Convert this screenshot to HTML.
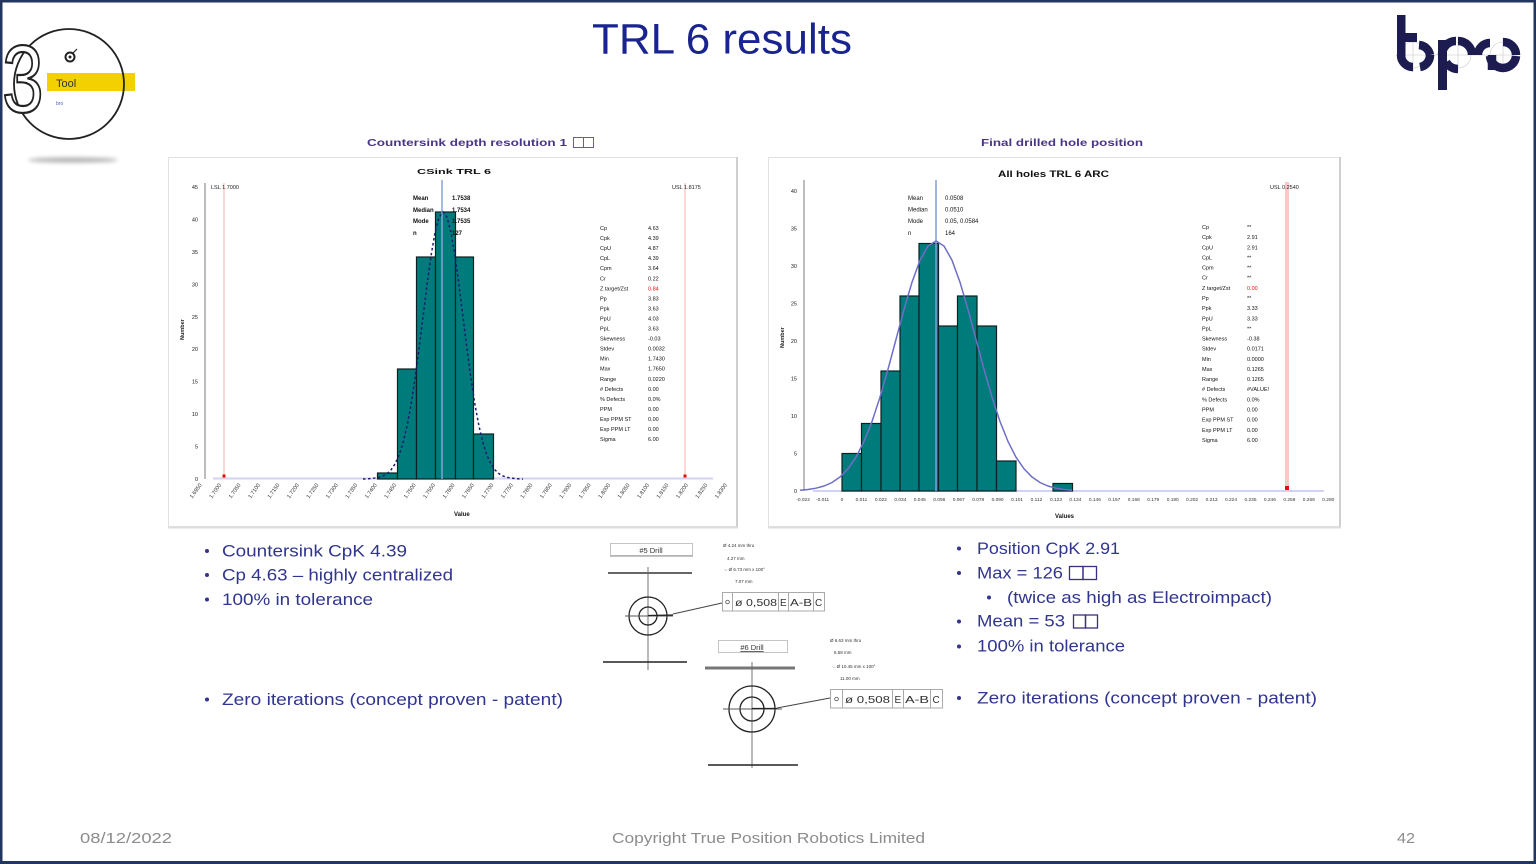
<!DOCTYPE html>
<html><head><meta charset="utf-8"><style>
html,body{margin:0;padding:0;background:#fff;width:1536px;height:864px;overflow:hidden}
svg{display:block;font-family:"Liberation Sans","DejaVu Sans",sans-serif}
</style></head><body>
<svg width="1536" height="864" viewBox="0 0 1536 864" xmlns="http://www.w3.org/2000/svg">
<defs><filter id="bl" x="-20%" y="-200%" width="140%" height="500%"><feGaussianBlur stdDeviation="2"/></filter></defs>
<rect width="1536" height="864" fill="#fff"/>
<!-- slide border -->
<rect x="0" y="0" width="1536" height="2.5" fill="#22365f"/>
<rect x="0" y="0" width="2.5" height="864" fill="#22365f"/>
<rect x="1533.5" y="0" width="2.5" height="864" fill="#22365f"/>
<rect x="0" y="861" width="1536" height="3" fill="#22365f"/>

<!-- left logo -->
<ellipse cx="73" cy="160" rx="45" ry="2.5" fill="#777" opacity="0.6" filter="url(#bl)"/>
<rect x="47" y="73" width="88" height="18" fill="#f3d000"/>
<circle cx="69" cy="84" r="55" fill="none" stroke="#222" stroke-width="1.8"/>
<text transform="translate(2,112) scale(0.78,1)" font-size="96" fill="#fff" stroke="#222" stroke-width="2.2">3</text>
<text x="56" y="87" font-size="11" fill="#333">Tool</text>
<text x="56" y="105" font-size="5" fill="#5060c0">bro</text>
<circle cx="70" cy="57" r="4.5" fill="none" stroke="#222" stroke-width="2"/>
<circle cx="70" cy="57" r="1.5" fill="#222"/>
<line x1="73" y1="53" x2="77" y2="49" stroke="#222" stroke-width="1.2"/>

<!-- right logo -->
<g stroke="#d6d6d6" stroke-width="0.8" fill="none">
<line x1="1396" y1="55" x2="1518" y2="55"/>
<circle cx="1413" cy="55" r="13"/><circle cx="1458" cy="55" r="13"/><circle cx="1503" cy="55" r="13"/>
<line x1="1413" y1="38" x2="1413" y2="72"/><line x1="1458" y1="38" x2="1458" y2="72"/><line x1="1503" y1="38" x2="1503" y2="72"/>
</g>
<g fill="#1c1c50">
<rect x="1397" y="15" width="8.5" height="42"/>
<rect x="1397" y="33" width="20" height="9"/>
<rect x="1438" y="40" width="9" height="50"/>
</g>
<g stroke="#1c1c50" stroke-width="8.5" fill="none">
<path d="M1401,55 A12,12 0 0 0 1413,67"/>
<path d="M1419,45 A12,12 0 0 1 1430,55"/>
<path d="M1430,55 A12,12 0 0 1 1420,67"/>
<path d="M1442,55 A14,14 0 0 1 1456,41"/>
<path d="M1458,41 A14,14 0 0 1 1472,55"/>
<path d="M1458,69 A14,14 0 0 1 1446,62"/>
<path d="M1478,55 A12,12 0 0 1 1490,43"/>
<path d="M1492,70 L1492,55"/>
<path d="M1503,42 A13,13 0 0 1 1516,55"/>
<path d="M1516,56 A13,13 0 0 1 1503,68"/>
<path d="M1490,56 A13,13 0 0 0 1503,68"/>
</g>

<!-- title -->
<text x="592" y="53.3" font-size="43" fill="#1a2490" textLength="260" lengthAdjust="spacingAndGlyphs">TRL 6 results</text>

<!-- chart subtitles -->
<text x="367" y="146" font-size="10.5" font-weight="bold" fill="#4a3585" textLength="200" lengthAdjust="spacingAndGlyphs">Countersink depth resolution 1</text>
<rect x="573.5" y="137.5" width="10" height="10" fill="none" stroke="#6a5aa8" stroke-width="1"/>
<rect x="583.5" y="137.5" width="10" height="10" fill="none" stroke="#6a5aa8" stroke-width="1"/>
<text x="981" y="146" font-size="10.5" font-weight="bold" fill="#4a3585" textLength="162" lengthAdjust="spacingAndGlyphs">Final drilled hole position</text>

<!-- ============ LEFT CHART ============ -->
<rect x="168.5" y="157.5" width="568" height="369" fill="#fff" stroke="#e2e2e2"/>
<line x1="737" y1="157" x2="737" y2="528" stroke="#cfcfcf" stroke-width="2"/>
<line x1="168" y1="527.5" x2="738" y2="527.5" stroke="#dcdcdc" stroke-width="2"/>
<text x="417" y="174" font-size="7.5" font-weight="bold" fill="#111" textLength="74" lengthAdjust="spacingAndGlyphs">CSink TRL 6</text>
<line x1="205" y1="183" x2="205" y2="479" stroke="#bdbdbd" stroke-width="2"/>
<g font-size="5.5" fill="#222" text-anchor="end">
<text x="198" y="189">45</text><text x="198" y="221.4">40</text><text x="198" y="253.9">35</text><text x="198" y="286.3">30</text><text x="198" y="318.8">25</text><text x="198" y="351.2">20</text><text x="198" y="383.7">15</text><text x="198" y="416.1">10</text><text x="198" y="448.6">5</text><text x="198" y="481">0</text>
</g>
<text transform="translate(184,340) rotate(-90)" font-size="5.5" font-weight="bold" fill="#222">Number</text>
<line x1="213" y1="478.5" x2="713" y2="478.5" stroke="#d2d2f4" stroke-width="2"/>
<line x1="224" y1="183" x2="224" y2="479" stroke="#f6caca" stroke-width="1.5"/>
<line x1="685" y1="183" x2="685" y2="479" stroke="#f6caca" stroke-width="1.5"/>
<rect x="222.5" y="474.5" width="3" height="3" fill="#e01010"/>
<rect x="683.5" y="474.5" width="3" height="3" fill="#e01010"/>
<text x="211" y="189" font-size="5.5" fill="#222">LSL 1.7000</text>
<text x="672" y="189" font-size="5.5" fill="#222">USL 1.8175</text>
<g fill="#007b7b" stroke="#0c2222" stroke-width="1.2">
<rect x="377.5" y="473" width="20" height="6"/>
<rect x="397.5" y="369" width="19" height="110"/>
<rect x="416.5" y="257" width="19" height="222"/>
<rect x="435.5" y="212" width="20" height="267"/>
<rect x="455.5" y="257" width="18" height="222"/>
<rect x="473.5" y="434" width="20" height="45"/>
</g>
<line x1="442" y1="180" x2="442" y2="479" stroke="#88a2d6" stroke-width="1.5"/>
<path d="M363,479 L371,478.6 L379,477.4 L383,476 L387,473.7 L391,469.9 L395,464 L399,455.3 L403,442.9 L407,426.2 L411,404.8 L415,378.8 L419,349 L423,317.1 L427,285.2 L431,256 L435,232.6 L439,217.3 L443,212 L447,217.3 L451,232.6 L455,256 L459,285.2 L463,317.1 L467,349 L471,378.8 L475,404.8 L479,426.2 L483,442.9 L487,455.3 L491,464 L495,469.9 L499,473.7 L503,476 L507,477.4 L515,478.6 L523,479" fill="none" stroke="#1c1c70" stroke-width="1.5" stroke-dasharray="2.5,2.5"/>
<g font-size="6" font-weight="bold" fill="#111">
<text x="413" y="200">Mean</text><text x="413" y="212">Median</text><text x="413" y="223">Mode</text><text x="413" y="235">n</text>
<text x="452" y="200">1.7538</text><text x="452" y="212">1.7534</text><text x="452" y="223">1.7535</text><text x="452" y="235">127</text>
</g>
<g font-size="5.5" fill="#111">
<text x="600" y="230">Cp</text><text x="600" y="240">Cpk</text><text x="600" y="250.1">CpU</text><text x="600" y="260.2">CpL</text><text x="600" y="270.2">Cpm</text><text x="600" y="280.3">Cr</text><text x="600" y="290.3">Z target/Zst</text><text x="600" y="300.4">Pp</text><text x="600" y="310.4">Ppk</text><text x="600" y="320.5">PpU</text><text x="600" y="330.5">PpL</text><text x="600" y="340.6">Skewness</text><text x="600" y="350.6">Stdev</text><text x="600" y="360.7">Min</text><text x="600" y="370.7">Max</text><text x="600" y="380.8">Range</text><text x="600" y="390.8"># Defects</text><text x="600" y="400.9">% Defects</text><text x="600" y="410.9">PPM</text><text x="600" y="421">Exp PPM ST</text><text x="600" y="431">Exp PPM LT</text><text x="600" y="441">Sigma</text>
<text x="648" y="230">4.63</text><text x="648" y="240">4.39</text><text x="648" y="250.1">4.87</text><text x="648" y="260.2">4.39</text><text x="648" y="270.2">3.64</text><text x="648" y="280.3">0.22</text><text x="648" y="290.3" fill="#e81010">0.84</text><text x="648" y="300.4">3.83</text><text x="648" y="310.4">3.63</text><text x="648" y="320.5">4.03</text><text x="648" y="330.5">3.63</text><text x="648" y="340.6">-0.03</text><text x="648" y="350.6">0.0032</text><text x="648" y="360.7">1.7430</text><text x="648" y="370.7">1.7650</text><text x="648" y="380.8">0.0220</text><text x="648" y="390.8">0.00</text><text x="648" y="400.9">0.0%</text><text x="648" y="410.9">0.00</text><text x="648" y="421">0.00</text><text x="648" y="431">0.00</text><text x="648" y="441">6.00</text>
</g>
<g font-size="5.5" fill="#333" text-anchor="end">
<text transform="translate(202,485) rotate(-55)">1.6950</text>
<text transform="translate(221.5,485) rotate(-55)">1.7000</text>
<text transform="translate(240.9,485) rotate(-55)">1.7050</text>
<text transform="translate(260.4,485) rotate(-55)">1.7100</text>
<text transform="translate(279.8,485) rotate(-55)">1.7150</text>
<text transform="translate(299.3,485) rotate(-55)">1.7200</text>
<text transform="translate(318.7,485) rotate(-55)">1.7250</text>
<text transform="translate(338.2,485) rotate(-55)">1.7300</text>
<text transform="translate(357.6,485) rotate(-55)">1.7350</text>
<text transform="translate(377.1,485) rotate(-55)">1.7400</text>
<text transform="translate(396.5,485) rotate(-55)">1.7450</text>
<text transform="translate(416,485) rotate(-55)">1.7500</text>
<text transform="translate(435.4,485) rotate(-55)">1.7550</text>
<text transform="translate(454.9,485) rotate(-55)">1.7600</text>
<text transform="translate(474.3,485) rotate(-55)">1.7650</text>
<text transform="translate(493.8,485) rotate(-55)">1.7700</text>
<text transform="translate(513.2,485) rotate(-55)">1.7750</text>
<text transform="translate(532.7,485) rotate(-55)">1.7800</text>
<text transform="translate(552.1,485) rotate(-55)">1.7850</text>
<text transform="translate(571.6,485) rotate(-55)">1.7900</text>
<text transform="translate(591,485) rotate(-55)">1.7950</text>
<text transform="translate(610.5,485) rotate(-55)">1.8000</text>
<text transform="translate(629.9,485) rotate(-55)">1.8050</text>
<text transform="translate(649.4,485) rotate(-55)">1.8100</text>
<text transform="translate(668.8,485) rotate(-55)">1.8150</text>
<text transform="translate(688.3,485) rotate(-55)">1.8200</text>
<text transform="translate(707.7,485) rotate(-55)">1.8250</text>
<text transform="translate(727.2,485) rotate(-55)">1.8300</text>
</g>
<text x="454" y="516" font-size="6" font-weight="bold" fill="#111">Value</text>

<!-- ============ RIGHT CHART ============ -->
<rect x="768.5" y="157.5" width="571" height="369" fill="#fff" stroke="#e2e2e2"/>
<line x1="1340" y1="157" x2="1340" y2="528" stroke="#cfcfcf" stroke-width="2"/>
<line x1="768" y1="527.5" x2="1341" y2="527.5" stroke="#dcdcdc" stroke-width="2"/>
<text x="998" y="177" font-size="9.5" font-weight="bold" fill="#111" textLength="111" lengthAdjust="spacingAndGlyphs">All holes TRL 6 ARC</text>
<line x1="804" y1="180" x2="804" y2="491" stroke="#bdbdbd" stroke-width="2"/>
<g font-size="5.5" fill="#222" text-anchor="end">
<text x="797" y="193">40</text><text x="797" y="230.5">35</text><text x="797" y="268">30</text><text x="797" y="305.5">25</text><text x="797" y="343">20</text><text x="797" y="380.5">15</text><text x="797" y="418">10</text><text x="797" y="455.5">5</text><text x="797" y="493">0</text>
</g>
<text transform="translate(784,348) rotate(-90)" font-size="5.5" font-weight="bold" fill="#222">Number</text>
<line x1="813" y1="491" x2="1324" y2="491" stroke="#d2d2f4" stroke-width="2"/>
<line x1="1287" y1="182" x2="1287" y2="491" stroke="#fbc8c8" stroke-width="4"/>
<rect x="1285" y="486" width="4" height="4" fill="#e01010"/>
<text x="1270" y="189" font-size="5.5" fill="#222">USL 0.2540</text>
<g fill="#007b7b" stroke="#0c2222" stroke-width="1.2">
<rect x="842" y="453.5" width="19.5" height="37.5"/>
<rect x="861.5" y="423.5" width="19.5" height="67.5"/>
<rect x="881" y="371" width="19" height="120"/>
<rect x="900" y="296" width="19" height="195"/>
<rect x="919" y="243.5" width="19.5" height="247.5"/>
<rect x="938.5" y="326" width="19" height="165"/>
<rect x="957.5" y="296" width="19.5" height="195"/>
<rect x="977" y="326" width="19.5" height="165"/>
<rect x="996.5" y="461" width="19.5" height="30"/>
<rect x="1053" y="483.5" width="19.5" height="7.5"/>
</g>
<line x1="936" y1="180" x2="936" y2="491" stroke="#7f9fd8" stroke-width="1.5"/>
<path d="M800,490.3 L808,489.5 L816,488.2 L824,486 L832,482.5 L840,477 L848,468.8 L856,457.2 L864,441.5 L872,421.5 L880,397.2 L888,369.3 L896,339.4 L904,309.4 L912,282.2 L920,260.2 L928,246 L936,241 L944,246 L952,260.2 L960,282.2 L968,309.4 L976,339.4 L984,369.3 L992,397.2 L1000,421.5 L1008,441.5 L1016,457.2 L1024,468.8 L1032,477 L1040,482.5 L1048,486 L1056,488.2 L1064,489.5 L1072,490.3" fill="none" stroke="#6e6ec8" stroke-width="1.5"/>
<g font-size="6" fill="#111">
<text x="908" y="200">Mean</text><text x="908" y="211.5">Median</text><text x="908" y="223">Mode</text><text x="908" y="235">n</text>
<text x="945" y="200">0.0508</text><text x="945" y="211.5">0.0510</text><text x="945" y="223">0.05, 0.0584</text><text x="945" y="235">164</text>
</g>
<g font-size="5.5" fill="#111">
<text x="1202" y="229">Cp</text><text x="1202" y="239.1">Cpk</text><text x="1202" y="249.3">CpU</text><text x="1202" y="259.4">CpL</text><text x="1202" y="269.6">Cpm</text><text x="1202" y="279.7">Cr</text><text x="1202" y="289.8">Z target/Zst</text><text x="1202" y="300">Pp</text><text x="1202" y="310.1">Ppk</text><text x="1202" y="320.3">PpU</text><text x="1202" y="330.4">PpL</text><text x="1202" y="340.5">Skewness</text><text x="1202" y="350.7">Stdev</text><text x="1202" y="360.8">Min</text><text x="1202" y="371">Max</text><text x="1202" y="381.1">Range</text><text x="1202" y="391.2"># Defects</text><text x="1202" y="401.4">% Defects</text><text x="1202" y="411.5">PPM</text><text x="1202" y="421.7">Exp PPM ST</text><text x="1202" y="431.8">Exp PPM LT</text><text x="1202" y="442">Sigma</text>
<text x="1247" y="229">**</text><text x="1247" y="239.1">2.91</text><text x="1247" y="249.3">2.91</text><text x="1247" y="259.4">**</text><text x="1247" y="269.6">**</text><text x="1247" y="279.7">**</text><text x="1247" y="289.8" fill="#e81010">0.00</text><text x="1247" y="300">**</text><text x="1247" y="310.1">3.33</text><text x="1247" y="320.3">3.33</text><text x="1247" y="330.4">**</text><text x="1247" y="340.5">-0.38</text><text x="1247" y="350.7">0.0171</text><text x="1247" y="360.8">0.0000</text><text x="1247" y="371">0.1265</text><text x="1247" y="381.1">0.1265</text><text x="1247" y="391.2">#VALUE!</text><text x="1247" y="401.4">0.0%</text><text x="1247" y="411.5">0.00</text><text x="1247" y="421.7">0.00</text><text x="1247" y="431.8">0.00</text><text x="1247" y="442">6.00</text>
</g>
<g font-size="4.8" fill="#333" text-anchor="middle">
<text x="803.1" y="501">-0.022</text><text x="822.6" y="501">-0.011</text><text x="842" y="501">0</text><text x="861.5" y="501">0.011</text><text x="880.9" y="501">0.022</text><text x="900.4" y="501">0.034</text><text x="919.8" y="501">0.045</text><text x="939.3" y="501">0.056</text><text x="958.7" y="501">0.067</text><text x="978.2" y="501">0.078</text><text x="997.6" y="501">0.090</text><text x="1017.1" y="501">0.101</text><text x="1036.5" y="501">0.112</text><text x="1056" y="501">0.123</text><text x="1075.4" y="501">0.134</text><text x="1094.9" y="501">0.146</text><text x="1114.3" y="501">0.157</text><text x="1133.8" y="501">0.168</text><text x="1153.2" y="501">0.179</text><text x="1172.7" y="501">0.190</text><text x="1192.1" y="501">0.202</text><text x="1211.6" y="501">0.213</text><text x="1231" y="501">0.224</text><text x="1250.5" y="501">0.235</text><text x="1269.9" y="501">0.246</text><text x="1289.4" y="501">0.258</text><text x="1308.8" y="501">0.269</text><text x="1328.3" y="501">0.280</text>
</g>
<text x="1055" y="518" font-size="6" font-weight="bold" fill="#111">Values</text>

<!-- ============ BULLETS LEFT ============ -->
<g fill="#30358f" font-size="16.5">
<circle cx="207" cy="551" r="2" fill="#30358f"/>
<circle cx="207" cy="575" r="2" fill="#30358f"/>
<circle cx="207" cy="599.5" r="2" fill="#30358f"/>
<circle cx="207" cy="699.5" r="2" fill="#30358f"/>
<text x="222" y="556.5" textLength="185" lengthAdjust="spacingAndGlyphs">Countersink CpK  4.39</text>
<text x="222" y="580.5" textLength="231" lengthAdjust="spacingAndGlyphs">Cp 4.63 – highly centralized</text>
<text x="222" y="605" textLength="151" lengthAdjust="spacingAndGlyphs">100% in tolerance</text>
<text x="222" y="705" textLength="341" lengthAdjust="spacingAndGlyphs">Zero iterations (concept proven - patent)</text>
</g>

<!-- ============ BULLETS RIGHT ============ -->
<g fill="#30358f" font-size="16.5">
<circle cx="959" cy="548.5" r="2" fill="#30358f"/>
<circle cx="959" cy="573" r="2" fill="#30358f"/>
<circle cx="989" cy="597.5" r="2" fill="#30358f"/>
<circle cx="959" cy="621.5" r="2" fill="#30358f"/>
<circle cx="959" cy="646.5" r="2" fill="#30358f"/>
<circle cx="959" cy="698" r="2" fill="#30358f"/>
<text x="977" y="554" textLength="143" lengthAdjust="spacingAndGlyphs">Position CpK 2.91</text>
<text x="977" y="578.3" textLength="86" lengthAdjust="spacingAndGlyphs">Max = 126</text>
<text x="1007" y="603" textLength="265" lengthAdjust="spacingAndGlyphs">(twice as high as Electroimpact)</text>
<text x="977" y="626.7" textLength="88" lengthAdjust="spacingAndGlyphs">Mean = 53</text>
<text x="977" y="651.7" textLength="148" lengthAdjust="spacingAndGlyphs">100% in tolerance</text>
<text x="977" y="703.3" textLength="340" lengthAdjust="spacingAndGlyphs">Zero iterations (concept proven - patent)</text>
</g>
<g fill="none" stroke="#3a2f80" stroke-width="1.3">
<rect x="1069.5" y="566.5" width="13.5" height="13"/><rect x="1083" y="566.5" width="13.5" height="13"/>
<rect x="1073.5" y="615" width="12" height="13"/><rect x="1085.5" y="615" width="12" height="13"/>
</g>

<!-- ============ MIDDLE DIAGRAM ============ -->
<g font-family="Liberation Sans, sans-serif">
<rect x="610.5" y="543.5" width="82" height="12" fill="#fff" stroke="#c4c4c4"/>
<line x1="610" y1="556" x2="693" y2="556" stroke="#b0b0b0" stroke-width="1.5"/>
<text x="651" y="553" font-size="7.5" fill="#333" text-anchor="middle">#5 Drill</text>
<line x1="608" y1="573" x2="692" y2="573" stroke="#333" stroke-width="1.5"/>
<line x1="648" y1="567" x2="648" y2="670" stroke="#666" stroke-width="0.9"/>
<circle cx="648" cy="616" r="19" fill="none" stroke="#222" stroke-width="1.3"/>
<circle cx="648" cy="616" r="9" fill="none" stroke="#222" stroke-width="1.3"/>
<line x1="625" y1="616" x2="673" y2="616" stroke="#555" stroke-width="0.9"/>
<line x1="648" y1="615.5" x2="673" y2="615" stroke="#222" stroke-width="1.2"/>
<line x1="603" y1="662" x2="687" y2="662" stroke="#222" stroke-width="1.5"/>
<line x1="673" y1="614" x2="722" y2="603" stroke="#444" stroke-width="1"/>
<rect x="722.5" y="592.5" width="102" height="18.5" fill="#fff" stroke="#aaa"/>
<g stroke="#aaa"><line x1="732.5" y1="592" x2="732.5" y2="611"/><line x1="778.5" y1="592" x2="778.5" y2="611"/><line x1="788.5" y1="592" x2="788.5" y2="611"/><line x1="813.5" y1="592" x2="813.5" y2="611"/></g>
<circle cx="727.5" cy="602" r="1.8" fill="none" stroke="#333" stroke-width="0.7"/>
<g font-size="10" fill="#333">
<text x="735" y="606" textLength="42" lengthAdjust="spacingAndGlyphs">ø 0,508</text>
<text x="780" y="606">E</text><text x="790" y="606" textLength="22" lengthAdjust="spacingAndGlyphs">A-B</text><text x="815" y="606">C</text>
</g>
<g font-size="4.5" fill="#333">
<text x="723" y="547">Ø 4.24 mm thru</text><text x="727" y="560">4.27 mm</text><text x="724" y="571">⌵ Ø 6.73 mm x 100°</text><text x="735" y="583">7.07 mm</text>
</g>

<rect x="718.5" y="640.5" width="69" height="12" fill="#fff" stroke="#c4c4c4"/>
<text x="752" y="650" font-size="7.5" fill="#333" text-anchor="middle" text-decoration="underline">#6 Drill</text>
<line x1="705" y1="668" x2="795" y2="668" stroke="#777" stroke-width="3"/>
<line x1="752" y1="662" x2="752" y2="768" stroke="#666" stroke-width="0.9"/>
<circle cx="752" cy="709" r="23" fill="none" stroke="#222" stroke-width="1.3"/>
<circle cx="752" cy="709" r="12" fill="none" stroke="#222" stroke-width="1.3"/>
<line x1="723" y1="709" x2="782" y2="709" stroke="#555" stroke-width="0.9"/>
<line x1="752" y1="708.5" x2="777" y2="708.5" stroke="#222" stroke-width="1.2"/>
<line x1="708" y1="765" x2="798" y2="765" stroke="#222" stroke-width="1.5"/>
<line x1="777" y1="708" x2="830" y2="698" stroke="#444" stroke-width="1"/>
<rect x="830.5" y="689.5" width="112" height="18.5" fill="#fff" stroke="#aaa"/>
<g stroke="#aaa"><line x1="842.5" y1="689" x2="842.5" y2="708"/><line x1="892.5" y1="689" x2="892.5" y2="708"/><line x1="903.5" y1="689" x2="903.5" y2="708"/><line x1="930.5" y1="689" x2="930.5" y2="708"/></g>
<circle cx="836.5" cy="699" r="1.8" fill="none" stroke="#333" stroke-width="0.7"/>
<g font-size="10" fill="#333">
<text x="845" y="703" textLength="45" lengthAdjust="spacingAndGlyphs">ø 0,508</text>
<text x="894.5" y="703">E</text><text x="905" y="703" textLength="24" lengthAdjust="spacingAndGlyphs">A-B</text><text x="932.5" y="703">C</text>
</g>
<g font-size="4.5" fill="#333">
<text x="830" y="642">Ø 6.63 mm thru</text><text x="834" y="654">6.58 mm</text><text x="832" y="668">⌵ Ø 10.45 mm x 100°</text><text x="840" y="680">11.00 mm</text>
</g>
</g>

<!-- footer -->
<g font-size="15" fill="#8c8c8c">
<text x="80" y="843" textLength="92" lengthAdjust="spacingAndGlyphs">08/12/2022</text>
<text x="612" y="843" textLength="313" lengthAdjust="spacingAndGlyphs">Copyright True Position Robotics Limited</text>
<text x="1397" y="843" textLength="18" lengthAdjust="spacingAndGlyphs">42</text>
</g>
</svg>
</body></html>
